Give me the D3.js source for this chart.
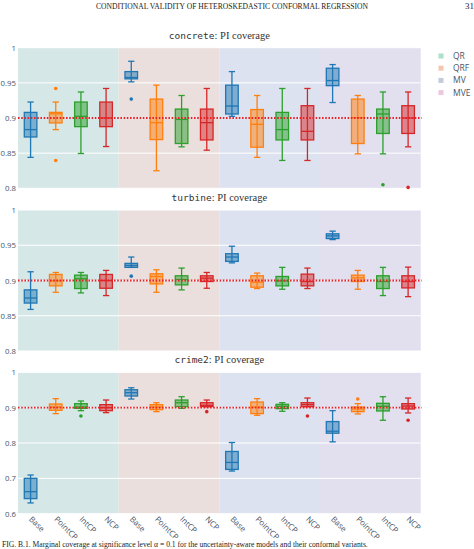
<!DOCTYPE html>
<html>
<head>
<meta charset="utf-8">
<script src="https://cdn.jsdelivr.net/npm/d3@7"></script>
<style>
  body { margin: 0; background: #fff; }
  svg { display: block; }
</style>
</head>
<body>
<script>
// methods along the x axis, repeated once per model group
var methods = ["Base", "PointCP", "IntCP", "NCP"];
var models = ["QR", "QRF", "MV", "MVE"];
var methodColors = ["#1f77b4", "#ff7f0e", "#2ca02c", "#d62728"];
var bandColors = ["#d5e7e6", "#ebdfdd", "#dce2ef", "#e2dfee"];
var legendColors = ["#ade0c8", "#f4c6ae", "#c3cad9", "#edc6e0"];

// box stats per box: [lower whisker, q1, median, q3, upper whisker]
var concreteBoxes = [
    [0.844, 0.873, 0.8835, 0.908, 0.9227],
    [0.8835, 0.893, 0.906, 0.908, 0.9227],
    [0.8495, 0.8877, 0.9024, 0.9227, 0.937],
    [0.8594, 0.8877, 0.900, 0.9227, 0.942],
    [0.9514, 0.9557, 0.9576, 0.966, 0.9807],
    [0.825, 0.8693, 0.8934, 0.9269, 0.9467],
    [0.859, 0.8637, 0.898, 0.9127, 0.932],
    [0.8542, 0.8688, 0.8934, 0.9127, 0.942],
    [0.9024, 0.9057, 0.917, 0.9467, 0.966],
    [0.844, 0.8585, 0.891, 0.912, 0.932],
    [0.8396, 0.8688, 0.8835, 0.908, 0.942],
    [0.8396, 0.8688, 0.881, 0.9175, 0.942],
    [0.922, 0.946, 0.9533, 0.9708, 0.976],
    [0.849, 0.8637, 0.9005, 0.9269, 0.932],
    [0.849, 0.878, 0.9057, 0.9127, 0.937],
    [0.859, 0.878, 0.900, 0.9175, 0.937]
];
var concreteOutliers = [[], [0.942, 0.8396], [], [], [0.9269], [], [], [], [], [], [], [], [], [], [0.805], [0.8013]];

var turbineBoxes = [
    [0.859, 0.868, 0.8752, 0.8867, 0.9124],
    [0.8833, 0.8924, 0.8995, 0.9086, 0.9114],
    [0.8824, 0.8886, 0.9024, 0.9076, 0.9114],
    [0.8786, 0.889, 0.900, 0.9086, 0.9143],
    [0.9186, 0.9186, 0.9214, 0.9243, 0.9333],
    [0.8833, 0.8952, 0.9057, 0.9095, 0.9152],
    [0.8867, 0.8938, 0.9014, 0.9067, 0.9176],
    [0.889, 0.8986, 0.9033, 0.9067, 0.9114],
    [0.925, 0.9271, 0.9333, 0.938, 0.9486],
    [0.8886, 0.8905, 0.8976, 0.9067, 0.9105],
    [0.8876, 0.8924, 0.8995, 0.9057, 0.9186],
    [0.8886, 0.8924, 0.8986, 0.909, 0.9176],
    [0.958, 0.9595, 0.9633, 0.9662, 0.97],
    [0.8876, 0.8986, 0.9038, 0.9076, 0.9143],
    [0.8786, 0.8886, 0.8986, 0.9067, 0.9186],
    [0.8771, 0.8895, 0.8986, 0.9067, 0.919]
];
var turbineOutliers = [[], [], [], [], [0.9062], [], [], [], [], [], [], [], [], [], [], []];

var crime2Boxes = [
    [0.6305, 0.6427, 0.6624, 0.70, 0.7094],
    [0.8831, 0.8925, 0.9019, 0.9103, 0.9254],
    [0.8915, 0.898, 0.9019, 0.9113, 0.9188],
    [0.8859, 0.8915, 0.90, 0.9085, 0.9216],
    [0.9244, 0.9329, 0.9423, 0.9507, 0.9563],
    [0.8887, 0.8944, 0.9019, 0.9085, 0.914],
    [0.898, 0.9028, 0.914, 0.9216, 0.931],
    [0.9028, 0.9028, 0.9066, 0.914, 0.9216],
    [0.7207, 0.7253, 0.745, 0.776, 0.8014],
    [0.8784, 0.8831, 0.9019, 0.916, 0.9254],
    [0.8897, 0.8972, 0.9038, 0.9094, 0.914],
    [0.9028, 0.9028, 0.9085, 0.914, 0.9272],
    [0.8033, 0.8277, 0.8333, 0.8606, 0.8915],
    [0.8822, 0.8887, 0.8962, 0.9019, 0.9113],
    [0.8643, 0.8906, 0.9038, 0.9122, 0.931],
    [0.885, 0.8962, 0.9047, 0.9113, 0.9272]
];
var crime2Outliers = [[], [], [0.8765], [], [], [], [], [0.8887], [], [], [], [0.8765], [], [0.9244], [], [0.8643]];

var ticksShort = [0.8, 0.85, 0.9, 0.95, 1];
var ticksLong = [0.6, 0.7, 0.8, 0.9, 1];
var target = 0.9;

var w = 474, h = 549;
var left = 18, right = 420.7;

var svg = d3.select("body").append("svg")
    .attr("width", w)
    .attr("height", h);

// page header
svg.append("text")
    .attr("x", 232).attr("y", 8.5)
    .attr("text-anchor", "middle")
    .attr("font-family", "Liberation Serif, serif")
    .attr("font-size", "7.6px")
    .attr("fill", "#222")
    .text("CONDITIONAL VALIDITY OF HETEROSKEDASTIC CONFORMAL REGRESSION");
svg.append("text")
    .attr("x", 474).attr("y", 9)
    .attr("text-anchor", "end")
    .attr("font-family", "Liberation Serif, serif")
    .attr("font-size", "9px")
    .attr("fill", "#222")
    .text("31");

// one x slot per (model, method)
var slots = [];
models.forEach(function(m, mi) {
    methods.forEach(function(me, ki) {
        slots.push({model: m, mi: mi, method: me, ki: ki, key: mi + "-" + ki});
    });
});

var x = d3.scaleBand()
    .domain(slots.map(function(s) { return s.key; }))
    .range([left, right]);

function drawPanel(name, top, bottom, domain, ticks, boxes, outliers, showX) {
    var y = d3.scaleLinear().domain(domain).range([bottom, top]);
    var g = svg.append("g");

    // title: dataset name in mono, rest in serif
    var title = g.append("text")
        .attr("x", (left + right) / 2)
        .attr("y", top - 9)
        .attr("text-anchor", "middle")
        .attr("font-size", "10.5px")
        .attr("fill", "#333");
    title.append("tspan").attr("font-family", "DejaVu Sans Mono, monospace").attr("font-size", "9.5px").text(name);
    title.append("tspan").attr("font-family", "Liberation Serif, serif").text(": PI coverage");

    // background bands, one per model
    g.selectAll(".band")
        .data(models)
        .enter().append("rect")
        .attr("x", function(d, i) { return x(i + "-0"); })
        .attr("width", x.bandwidth() * 4)
        .attr("y", top)
        .attr("height", bottom - top)
        .attr("fill", function(d, i) { return bandColors[i]; });

    // gridlines
    g.selectAll(".grid")
        .data(ticks)
        .enter().append("line")
        .attr("x1", left).attr("x2", right)
        .attr("y1", function(d) { return y(d); })
        .attr("y2", function(d) { return y(d); })
        .attr("stroke", "#fff")
        .attr("stroke-width", 1);

    // y axis labels
    var yAxis = d3.axisLeft(y).tickValues(ticks).tickSize(0).tickPadding(2)
        .tickFormat(function(d) { return d3.format("")(+d.toFixed(2)); });
    g.append("g")
        .attr("transform", "translate(" + left + ",0)")
        .call(yAxis)
        .call(function(a) { a.select(".domain").remove(); })
        .selectAll("text")
        .attr("font-family", "Open Sans, sans-serif")
        .attr("font-size", "7.8px")
        .attr("fill", "#4a5568");

    var bw = x.bandwidth() * 0.5;
    var box = g.selectAll(".box")
        .data(boxes)
        .enter().append("g")
        .attr("transform", function(d, i) { return "translate(" + (x(slots[i].key) + x.bandwidth() / 2) + ",0)"; });

    box.each(function(d, i) {
        var b = d3.select(this);
        var c = methodColors[slots[i].ki];
        // whiskers
        b.append("line").attr("x1", 0).attr("x2", 0)
            .attr("y1", y(d[0])).attr("y2", y(d[4]))
            .attr("stroke", c).attr("stroke-width", 1.3);
        [d[0], d[4]].forEach(function(v) {
            b.append("line").attr("x1", -bw / 4).attr("x2", bw / 4)
                .attr("y1", y(v)).attr("y2", y(v))
                .attr("stroke", c).attr("stroke-width", 1.3);
        });
        // box
        b.append("rect")
            .attr("x", -bw / 2).attr("width", bw)
            .attr("y", y(d[3])).attr("height", Math.max(y(d[1]) - y(d[3]), 0.5))
            .attr("fill", d3.color(c).copy({opacity: 0.5}))
            .attr("stroke", c).attr("stroke-width", 1.3);
        b.append("line").attr("x1", -bw / 2).attr("x2", bw / 2)
            .attr("y1", y(d[2])).attr("y2", y(d[2]))
            .attr("stroke", c).attr("stroke-width", 1.3);
        // outliers
        outliers[i].forEach(function(v) {
            b.append("circle").attr("cx", 0).attr("cy", y(v)).attr("r", 1.8).attr("fill", c);
        });
    });

    // target coverage
    g.append("line")
        .attr("x1", left).attr("x2", right + 1)
        .attr("y1", y(target)).attr("y2", y(target))
        .attr("stroke", "#e8202a")
        .attr("stroke-width", 1.8)
        .attr("stroke-dasharray", "1.6,1.6");

    if (showX) {
        var xAxis = d3.axisBottom(x).tickSize(0).tickPadding(0)
            .tickFormat(function(k) { return slots.find(function(s) { return s.key == k; }).method; });
        g.append("g")
            .attr("transform", "translate(0," + bottom + ")")
            .call(xAxis)
            .call(function(a) { a.select(".domain").remove(); })
            .selectAll("text")
            .attr("font-family", "Open Sans, sans-serif")
            .attr("font-size", "8px")
            .attr("fill", "#4a5568")
            .attr("text-anchor", "start")
            .attr("dy", "0")
            .attr("transform", "translate(-2,6) rotate(45)");
    }
}

drawPanel("concrete", 47.7, 188.3, [0.8, 1], ticksShort, concreteBoxes, concreteOutliers, false);
drawPanel("turbine", 210, 351, [0.8, 1], ticksShort, turbineBoxes, turbineOutliers, false);
drawPanel("crime2", 372.3, 513.7, [0.6, 1], ticksLong, crime2Boxes, crime2Outliers, true);

// legend
var legend = svg.append("g").selectAll("g")
    .data(models)
    .enter().append("g")
    .attr("transform", function(d, i) { return "translate(441," + (56 + i * 12.2) + ")"; });
legend.append("rect")
    .attr("x", -2.5).attr("y", -2.5).attr("width", 5).attr("height", 5)
    .attr("fill", function(d, i) { return legendColors[i]; });
legend.append("text")
    .attr("x", 12).attr("y", 3)
    .attr("font-family", "Open Sans, sans-serif")
    .attr("font-size", "8.5px")
    .attr("fill", "#4a5568")
    .text(function(d) { return d; });

// caption line at the foot of the page
svg.append("text")
    .attr("x", 2).attr("y", 546.5)
    .attr("font-family", "Liberation Serif, serif")
    .attr("font-size", "7.6px")
    .attr("fill", "#222")
    .text("FIG. B.1. Marginal coverage at significance level \u03b1 = 0.1 for the uncertainty-aware models and their conformal variants.");
</script>
</body>
</html>
